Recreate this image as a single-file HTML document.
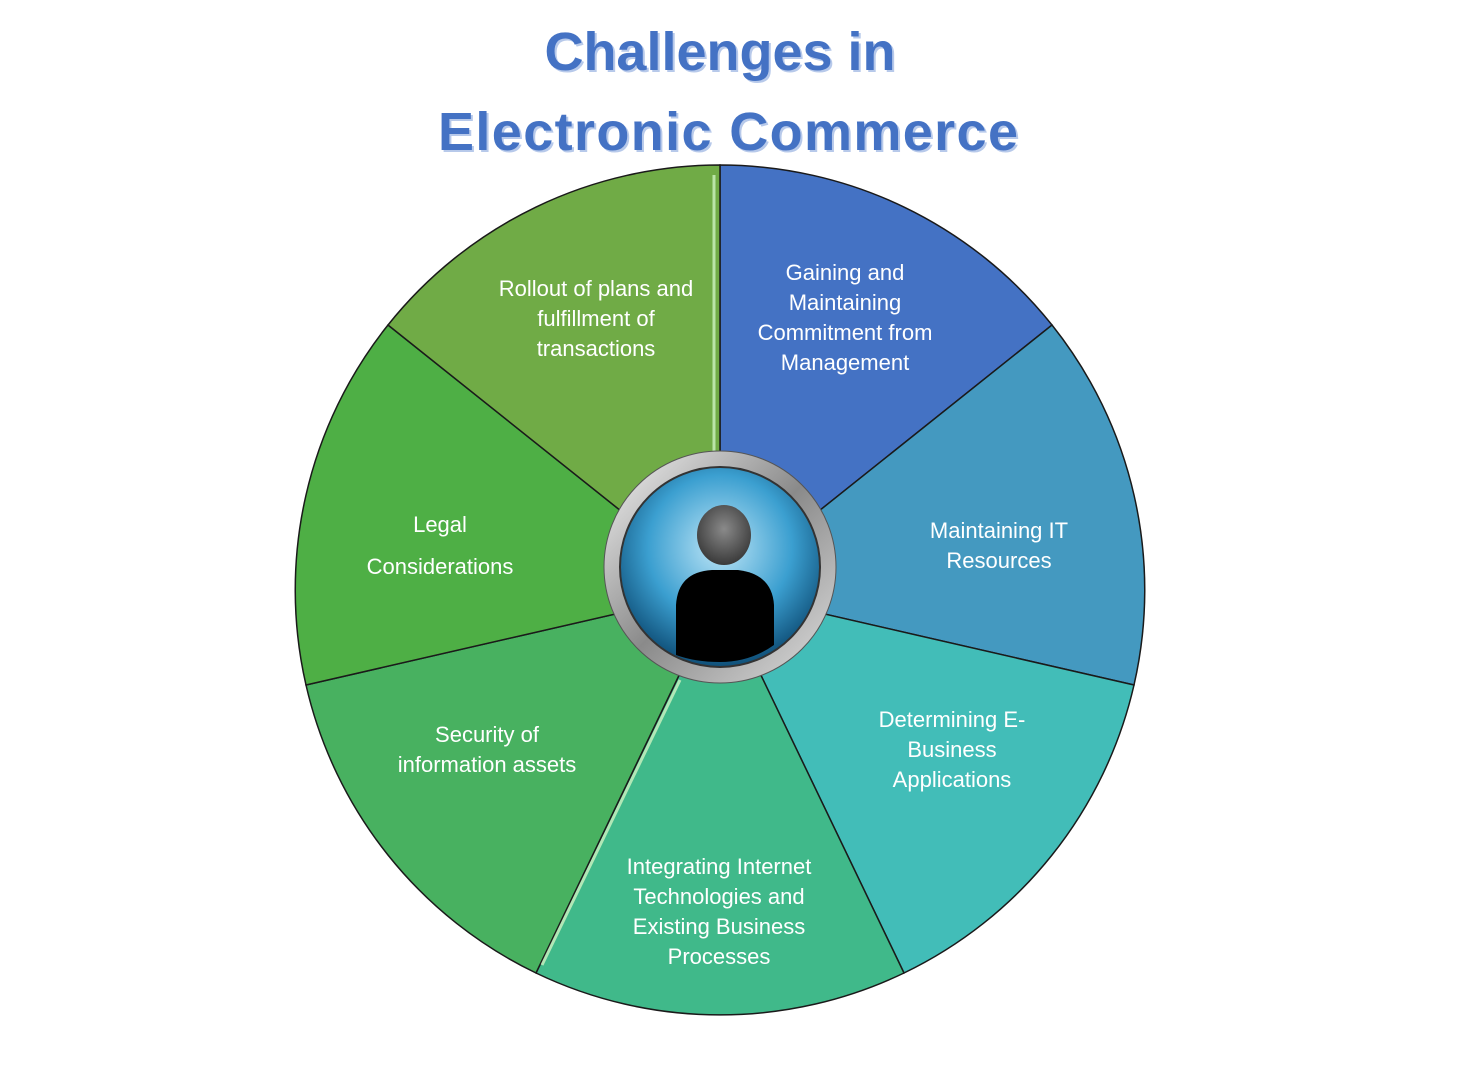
<!DOCTYPE html>
<html><head><meta charset="utf-8"><style>
html,body{margin:0;padding:0;background:#fff;}
svg{display:block;}
</style></head><body>
<svg width="1460" height="1071" viewBox="0 0 1460 1071" xmlns="http://www.w3.org/2000/svg">
<defs>
<radialGradient id="glob" cx="50%" cy="40%" r="60%">
<stop offset="0" stop-color="#bfe6f7"/><stop offset="0.6" stop-color="#3b9fd0"/><stop offset="1" stop-color="#0f4f78"/>
</radialGradient>
<linearGradient id="ring" x1="0" y1="0" x2="1" y2="1">
<stop offset="0" stop-color="#f4f4f4"/><stop offset="0.5" stop-color="#8a8a8a"/><stop offset="1" stop-color="#e0e0e0"/>
</linearGradient>
<radialGradient id="head" cx="50%" cy="40%" r="60%"><stop offset="0" stop-color="#8a8a8a"/><stop offset="1" stop-color="#3a3a3a"/></radialGradient>
</defs>
<g font-family="Liberation Sans, sans-serif" font-weight="bold" font-size="54" text-anchor="middle">
<text x="722" y="72" fill="#b7c9ea">Challenges in</text>
<text x="720" y="70" fill="#4472C4">Challenges in</text>
<text x="730" y="152" fill="#b7c9ea" textLength="580">Electronic Commerce</text>
<text x="728" y="150" fill="#4472C4" textLength="580">Electronic Commerce</text>
</g>
<g stroke="#1a1a1a" stroke-width="1.5">
<path d="M720,590 L720,165 A425,425 0 0 1 1052,325 Z" fill="#4472C4"/>
<path d="M720,590 L1052,325 A425,425 0 0 1 1134,685 Z" fill="#4499C0"/>
<path d="M720,590 L1134,685 A425,425 0 0 1 904,973 Z" fill="#42BDB8"/>
<path d="M720,590 L904,973 A425,425 0 0 1 536,973 Z" fill="#40B98A"/>
<path d="M720,590 L536,973 A425,425 0 0 1 306,685 Z" fill="#48B160"/>
<path d="M720,590 L306,685 A425,425 0 0 1 388,325 Z" fill="#4EAF45"/>
<path d="M720,590 L388,325 A425,425 0 0 1 720,165 Z" fill="#70AB46"/>
</g>
<g stroke="#cdf2c0" stroke-width="3" fill="none" opacity="0.8">
<line x1="714" y1="175" x2="714" y2="455"/>
<line x1="680" y1="680" x2="542" y2="965"/>
</g>
<circle cx="720" cy="567" r="116" fill="url(#ring)" stroke="#555" stroke-width="1"/>
<circle cx="720" cy="567" r="100" fill="url(#glob)" stroke="#333" stroke-width="2"/>
<ellipse cx="724" cy="535" rx="27" ry="30" fill="url(#head)"/>
<path d="M676,655 L676,605 Q678,572 712,570 L738,570 Q772,574 774,605 L774,645 Q750,662 720,662 Q695,662 676,655 Z" fill="#000"/>
<g font-family="Liberation Sans, sans-serif" font-size="22" fill="#fff" text-anchor="middle">
<text x="845" y="280">Gaining and</text><text x="845" y="310">Maintaining</text><text x="845" y="340">Commitment from</text><text x="845" y="370">Management</text>
<text x="999" y="538">Maintaining IT</text><text x="999" y="568">Resources</text>
<text x="952" y="727">Determining E-</text><text x="952" y="757">Business</text><text x="952" y="787">Applications</text>
<text x="719" y="874">Integrating Internet</text><text x="719" y="904">Technologies and</text><text x="719" y="934">Existing Business</text><text x="719" y="964">Processes</text>
<text x="487" y="742">Security of</text><text x="487" y="772">information assets</text>
<text x="440" y="532">Legal</text><text x="440" y="574">Considerations</text>
<text x="596" y="296">Rollout of plans and</text><text x="596" y="326">fulfillment of</text><text x="596" y="356">transactions</text>
</g>
</svg>
</body></html>
